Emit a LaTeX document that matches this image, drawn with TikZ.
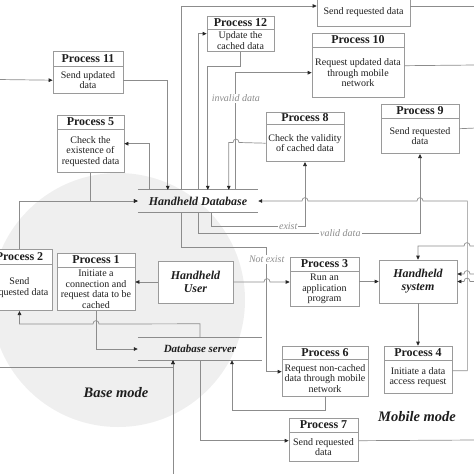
\documentclass[tikz,border=0pt]{standalone}
\usepackage{fontspec}
\setmainfont{Liberation Serif}
\usetikzlibrary{arrows.meta}

\definecolor{lncol}{HTML}{8C8C8C}
\definecolor{boxcol}{HTML}{9A9A9A}
\definecolor{txtcol}{HTML}{1E1E1E}
\definecolor{modecol}{HTML}{EFEFEF}

\tikzset{
  head/.style={draw=boxcol, fill=white, line width=0.7pt, inner sep=1pt,
    font=\fontsize{12}{13}\selectfont\bfseries, text=txtcol},
  body/.style={draw=boxcol, fill=white, line width=0.7pt, inner sep=0.5pt, align=center,
    font=\fontsize{10}{10.5}\selectfont, text=txtcol},
  actor/.style={draw=boxcol, fill=white, line width=0.7pt, align=center,
    font=\fontsize{12}{13}\selectfont\bfseries\itshape, text=txtcol},
  store/.style={inner sep=0pt, font=\fontsize{12}{13}\selectfont\bfseries\itshape, text=txtcol},
  line/.style={draw=lncol, line width=0.7pt},
  flow/.style={line, -{Triangle[length=4pt,width=3.6pt,color=black!85]}},
  lbl/.style={fill=white, inner sep=1pt, font=\fontsize{10}{11}\selectfont\itshape, text=lncol},
  mode/.style={font=\fontsize{14.5}{16}\selectfont\bfseries\itshape, text=txtcol},
}

\begin{document}
\begin{tikzpicture}[x=1pt, y=-1pt]
  \useasboundingbox (0,0) rectangle (474,474);
  \clip (0,0) rectangle (474,474);

  % base mode area
  \fill[modecol] (118,300) circle[radius=127pt];
  \node[mode] (base) at (116,393) {Base mode};
  \node[mode] (mobile) at (417,417) {Mobile mode};

  % stores
  \node[store, minimum width=120pt, minimum height=22pt] (hdb) at (198,201) {Handheld Database};
  \draw[line] (hdb.north west) -- (hdb.north east);
  \draw[line] (hdb.south west) -- (hdb.south east);
  \node[store, font=\fontsize{11}{12}\selectfont\bfseries\itshape, minimum width=124pt, minimum height=22pt] (dbs) at (200,349) {Database server};
  \draw[line] (dbs.north west) -- (dbs.north east);
  \draw[line] (dbs.south west) -- (dbs.south east);

  % actors
  \node[actor, minimum width=75pt, minimum height=42pt] (user) at (195.5,282) {Handheld\\User};
  \node[actor, minimum width=78pt, minimum height=43pt] (sys) at (418,281.5) {Handheld\\system};

  % processes
  \node[body, minimum width=93pt, minimum height=27pt] (psend) at (363.5,12.5) {Send requested data};

  \node[head, minimum width=67pt, minimum height=13pt] (p12) at (240.5,22.5) {Process 12};
  \node[body, anchor=north, minimum width=67pt, minimum height=22pt] (p12b) at (p12.south) {Update the\\cached data};

  \node[head, minimum width=70pt, minimum height=15pt] (p11) at (88,58.5) {Process 11};
  \node[body, anchor=north, minimum width=70pt, minimum height=27pt] (p11b) at (p11.south) {Send updated\\data};

  \node[head, minimum width=92pt, minimum height=14pt] (p10) at (358,40) {Process 10};
  \node[body, anchor=north, minimum width=92pt, minimum height=50pt] (p10b) at (p10.south) {Request updated data\\through mobile\\network};

  \node[head, minimum width=67pt, minimum height=14pt] (p5) at (90.5,122) {Process 5};
  \node[body, anchor=north, minimum width=67pt, minimum height=43pt] (p5b) at (p5.south) {Check the\\existence of\\requested data};

  \node[head, minimum width=78pt, minimum height=12pt] (p8) at (305,118) {Process 8};
  \node[body, anchor=north, minimum width=78pt, minimum height=37pt] (p8b) at (p8.south) {Check the validity\\of cached data};

  \node[head, minimum width=78pt, minimum height=14pt] (p9) at (420,111) {Process 9};
  \node[body, anchor=north, minimum width=78pt, minimum height=35pt] (p9b) at (p9.south) {Send requested\\data};

  \node[head, minimum width=65pt, minimum height=15pt] (p2) at (19.5,256.5) {Process 2};
  \node[body, anchor=north, minimum width=65pt, minimum height=46pt] (p2b) at (p2.south) {Send\\requested data};

  \node[head, minimum width=78pt, minimum height=14pt] (p1) at (96,260) {Process 1};
  \node[body, anchor=north, minimum width=78pt, minimum height=43pt] (p1b) at (p1.south) {Initiate a\\connection and\\request data to be\\cached};

  \node[head, minimum width=69pt, minimum height=14pt] (p3) at (324.5,264) {Process 3};
  \node[body, anchor=north, minimum width=69pt, minimum height=35pt] (p3b) at (p3.south) {Run an\\application\\program};

  \node[head, minimum width=86pt, minimum height=13pt] (p6) at (325,352.5) {Process 6};
  \node[body, anchor=north, minimum width=86pt, minimum height=37pt] (p6b) at (p6.south) {Request non-cached\\data through mobile\\network};

  \node[head, minimum width=68pt, minimum height=14pt] (p4) at (418,353) {Process 4};
  \node[body, anchor=north, minimum width=68pt, minimum height=33pt] (p4b) at (p4.south) {Initiate a data\\access request};

  \node[head, minimum width=69pt, minimum height=14pt] (p7) at (323.5,425) {Process 7};
  \node[body, anchor=north, minimum width=69pt, minimum height=29pt] (p7b) at (p7.south) {Send requested\\data};

  % ends outside the picture
  \coordinate (eL78) at (-2,79.5);
  \coordinate (eL367) at (-2,367);
  \coordinate (eB173) at (173,476);
  \coordinate (eR6) at (476,6);
  \coordinate (eR65) at (476,65);
  \coordinate (eR128) at (476,128);
  \coordinate (eR246) at (476,246);
  \coordinate (eR274) at (476,274);
  \coordinate (eR282) at (476,281.5);
  \coordinate (eR440) at (476,440);

  % above the handheld database
  \draw[flow] (eL78) -- (p11b.west);
  \draw[flow] (p11b.east) -| ([xshift=30pt]hdb.north west);
  \draw[flow] ([xshift=12pt]hdb.north west) |- ([yshift=7.5pt]p5b.east);
  \draw[flow] (p5b.south) |- (hdb.west);
  \draw[flow] (p2.north) |- (hdb.west);
  \draw[flow] ([xshift=44pt]hdb.north west) |- ([yshift=6.5pt]psend.west);
  \draw[line] ([yshift=6.5pt]psend.east) -- (eR6);
  \draw[flow] ([xshift=61pt]hdb.north west) |- ([yshift=7pt]p12b.west);
  \draw[flow] (p12b.south) -- ++(0,14) -| ([xshift=70pt]hdb.north west);
  \draw[flow] (p8b.west) -- (239,142.5) .. controls (239,138) and (233,138) .. (233,142.5) -| ([xshift=91pt]hdb.north west);
  \draw[flow] ([xshift=98pt]hdb.north west) |- node[lbl, pos=0.39] {invalid data} (p10b.west);
  \draw[line] ([yshift=7pt]p10b.east) -- (eR65);
  \draw[line] ([yshift=7.5pt]p9b.east) -- (eR128);

  % below the handheld database
  \draw[flow] ([xshift=74pt]hdb.south west) |- node[lbl, pos=0.91] {exist} ([yshift=-64pt]p8b.south) -- (p8b.south);
  \draw[flow] ([xshift=61pt]hdb.south west) |- node[lbl, pos=0.82] {valid data} ([yshift=-79pt]p9b.south) -- (p9b.south);
  \draw[flow] ([xshift=44pt]hdb.south west) -- ++(0,35) -| node[lbl, pos=0.55] {Not exist} ([xshift=-15pt,yshift=6.5pt]p6b.west) -- ([yshift=6.5pt]p6b.west);

  % handheld user and system
  \draw[flow] (user.west) -- (user.west -| p1b.east);
  \draw[flow] (user.east) -- (264,282) .. controls (264,277.5) and (270,277.5) .. (270,282) -- (user.east -| p3b.west);
  \draw[flow] (p3b.east |- sys.west) -- (sys.west);
  \draw[flow] (sys.south) -- (p4.north);
  \draw[flow] ([yshift=6.5pt]p4b.east) -- ++(15,0) |- (423,201) .. controls (423,196.5) and (417,196.5) .. (417,201)
    -- (308,201) .. controls (308,196.5) and (302,196.5) .. (302,201) -- (hdb.east);
  \draw[flow] (eR246) -- (470,246) .. controls (470,241.5) and (464,241.5) .. (464,246) -| (sys.north);
  \draw[flow] (eR274) -- (470,274) .. controls (470,269.5) and (464,269.5) .. (464,274) -- ([yshift=7.5pt]sys.east);
  \draw[flow] (eR282) -- (470,281.5) .. controls (470,277) and (464,277) .. (464,281.5) -- (sys.east);

  % database server
  \draw[flow] (p1b.south) |- (dbs.west);
  \draw[flow] (dbs.north) -- ++(0,-14) -- (99,324) .. controls (99,319.5) and (93,319.5) .. (93,324) -| (p2b.south);
  \draw[flow] (dbs.south) |- ([yshift=6.5pt]p7b.west);
  \draw[line] ([yshift=6.5pt]p7b.east) -- (eR440);
  \draw[flow] (p6b.south) -- ++(0,13) -| ([xshift=32pt]dbs.south);
  \draw[flow] (eL367) -| ([xshift=-27pt]dbs.south);
  \draw[flow] (eB173) -- ([xshift=-27pt]dbs.south);
\end{tikzpicture}
\end{document}
